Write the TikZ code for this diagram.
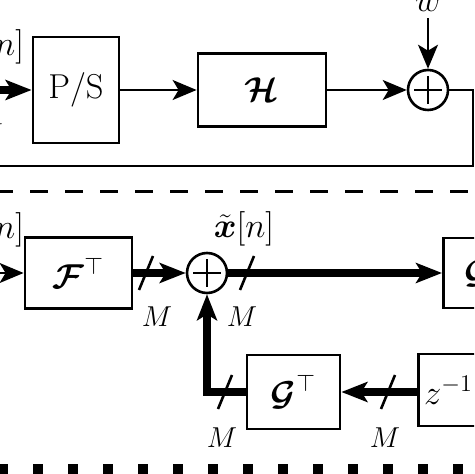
\documentclass[tikz,border=0pt]{standalone}
\usepackage{amsmath,amssymb}
\usepackage{xcolor}
\usepackage{tikz}
\usetikzlibrary{calc,arrows.meta}
\tikzset{
  blk/.style={draw, line width=1.4pt, inner sep=0pt, font=\LARGE},
  sum/.style={circle, draw, line width=1.3pt, minimum size=20pt, inner sep=0pt,
    path picture={\draw[line width=1.3pt]
      ($(path picture bounding box.center)+(-7pt,0)$) -- ++(14pt,0)
      ($(path picture bounding box.center)+(0,-7pt)$) -- ++(0,14pt);}},
  wire/.style={line width=1.2pt},
  sig/.style={line width=1pt, -{Stealth[length=12pt,width=10pt,inset=3pt]}},
  vec/.style={line width=4pt, -{Stealth[length=13pt,width=10pt,inset=3pt]}},
  lab/.style={font=\LARGE},
  mlab/.style={font=\Large},
  bus/.pic={\draw[line width=1.3pt] (-7,17) -- (7,-17);},
}

\begin{document}
\begin{tikzpicture}[x=0.5pt,y=-0.5pt]
  \useasboundingbox (0,0) rectangle (474,474);
  \clip (0,0) rectangle (474,474);

  % transmitter side
  \coordinate (inA) at (-20,90);
  \coordinate (rt) at (473,90);
  \coordinate (lf) at (-10,166);
  \node[lab,anchor=east] (xin) at (31,47) {$\boldsymbol{x}[n]$};
  \node[mlab,anchor=east] (mA) at (10,134) {$M$};
  \node[blk,minimum width=43pt,minimum height=53pt] (PS) at (76,90) {P/S};
  \node[blk,minimum width=64pt,minimum height=36.5pt] (H) at (262,90) {$\boldsymbol{\mathcal{H}}$};
  \node[sum] (addA) at (428,90) {};
  \node[lab] (w) at (428,4) {$w$};

  \draw[vec] (inA) -- (PS);
  \draw[sig] (PS) -- (H);
  \draw[sig] (H) -- (addA);
  \draw[sig] (w) -- (addA);
  \draw[wire] (addA) -- (rt) |- (lf);

  \draw[line width=1.5pt,dash pattern=on 9pt off 8.5pt] (-5,192) -- (480,192);

  % receiver side
  \coordinate (inB) at (-20,273);
  \node[lab,anchor=east] (yin) at (31,230) {$\boldsymbol{y}[n]$};
  \node[blk,minimum width=53.5pt,minimum height=35.5pt] (FT) at (78.5,273) {$\boldsymbol{\mathcal{F}}^{\top}$};
  \node[sum] (addB) at (207,273) {};
  \node[lab] (xt) at (244,229) {$\tilde{\boldsymbol{x}}[n]$};
  \node[blk,minimum width=34pt,minimum height=35pt,anchor=west] (G) at (442,273) {$\boldsymbol{\mathcal{G}}$};
  \node[blk,minimum width=46.5pt,minimum height=37pt] (GT) at (293.5,392) {$\boldsymbol{\mathcal{G}}^{\top}$};
  \node[blk,minimum width=30pt,minimum height=36pt,anchor=west] (zd) at (417,390) {$z^{-1}$};

  \draw[sig] (inB) -- (FT);
  \draw[vec] (FT) -- (addB);
  \draw[vec] (addB) -- (G);
  \draw[vec] (zd.west |- GT.east) -- (GT);
  \draw[vec,line join=miter] (GT.west) -| (addB);

  \pic at (146,273) {bus};
  \pic at (247,273) {bus};
  \pic at (225,392) {bus};
  \pic at (388,392) {bus};
  \node[mlab] (m1) at (157,317) {$M$};
  \node[mlab] (m2) at (242,317) {$M$};
  \node[mlab] (m3) at (222,438) {$M$};
  \node[mlab] (m4) at (385,438) {$M$};

  \draw[line width=5pt,dash pattern=on 5pt off 12.5pt] (-2,469) -- (480,469);
\end{tikzpicture}
\end{document}
